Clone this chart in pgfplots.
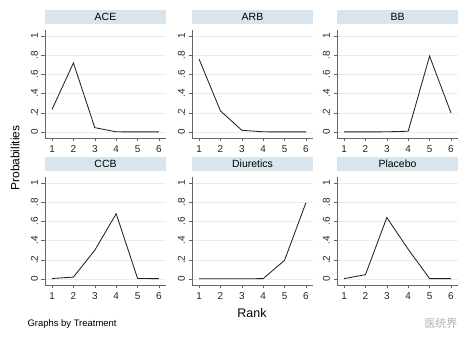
\documentclass[border=0pt]{standalone}
\usepackage{fontspec}
\setmainfont{Liberation Sans}
\newfontfamily\cjk{Noto Sans CJK SC}
\usepackage{pgfplots}
\pgfplotsset{compat=1.18}

\definecolor{strip}{RGB}{217,229,236}
\definecolor{ln}{RGB}{35,35,35}

\pgfplotsset{panel/.style={
 scale only axis, width=121bp, height=108bp,
 xmin=0.67, xmax=6.33, ymin=-0.0625, ymax=1.0625,
 axis x line*=bottom, axis y line*=left,
 axis line style={black!60, line width=0.6pt},
 xtick={1,2,3,4,5,6}, ytick={0,0.2,0.4,0.6,0.8,1},
 yticklabels={0,.2,.4,.6,.8,1},
 tick align=outside, major tick length=3.5bp, tick style={black!60, line width=0.5pt},
 ymajorgrids, grid style={black!8, line width=0.5pt},
 ticklabel style={font=\fontsize{10}{11}\selectfont, text=black!85},
 xticklabel style={yshift=-1bp},
 yticklabel style={rotate=90, anchor=south},
 /pgf/number format/assume math mode=true,
 title style={at={(0.5,1)}, anchor=south, fill=strip, minimum width=121bp, minimum height=14bp, inner sep=0pt, font=\fontsize{10.5}{11}\selectfont, yshift=0pt},
 anchor=south west,
}}

\begin{document}
\begin{tikzpicture}
\path[use as bounding box, fill=white] (0,0) rectangle (474bp,344bp);

\begin{axis}[panel, at={(45bp,206bp)}, title={ACE}]
\addplot[ln, line width=0.85pt] coordinates {(1,0.235)(2,0.72)(3,0.045)(4,0.002)(5,0.001)(6,0.001)};
\end{axis}
\begin{axis}[panel, at={(192bp,206bp)}, title={ARB}]
\addplot[ln, line width=0.85pt] coordinates {(1,0.76)(2,0.22)(3,0.018)(4,0.002)(5,0.001)(6,0.001)};
\end{axis}
\begin{axis}[panel, at={(337bp,206bp)}, title={BB}]
\addplot[ln, line width=0.85pt] coordinates {(1,0.001)(2,0.001)(3,0.002)(4,0.008)(5,0.79)(6,0.20)};
\end{axis}
\begin{axis}[panel, at={(45bp,59bp)}, title={CCB}]
\addplot[ln, line width=0.85pt] coordinates {(1,0.005)(2,0.02)(3,0.30)(4,0.68)(5,0.005)(6,0.004)};
\end{axis}
\begin{axis}[panel, at={(192bp,59bp)}, title={Diuretics}]
\addplot[ln, line width=0.85pt] coordinates {(1,0.002)(2,0.002)(3,0.002)(4,0.004)(5,0.195)(6,0.795)};
\end{axis}
\begin{axis}[panel, at={(337bp,59bp)}, title={Placebo}]
\addplot[ln, line width=0.85pt] coordinates {(1,0.004)(2,0.045)(3,0.64)(4,0.31)(5,0.004)(6,0.004)};
\end{axis}

\node[rotate=90, font=\fontsize{12}{13}\selectfont] at (15bp,186bp) {Probabilities};
\node[font=\fontsize{12.5}{13}\selectfont] at (252bp,31bp) {Rank};
\node[anchor=west, font=\fontsize{9.5}{11}\selectfont] at (24bp,20bp) {Graphs by Treatment};
\node[anchor=west, text=black!30, font=\cjk\fontsize{11}{12}\selectfont] at (421bp,21bp) {医统界};
\end{tikzpicture}
\end{document}
